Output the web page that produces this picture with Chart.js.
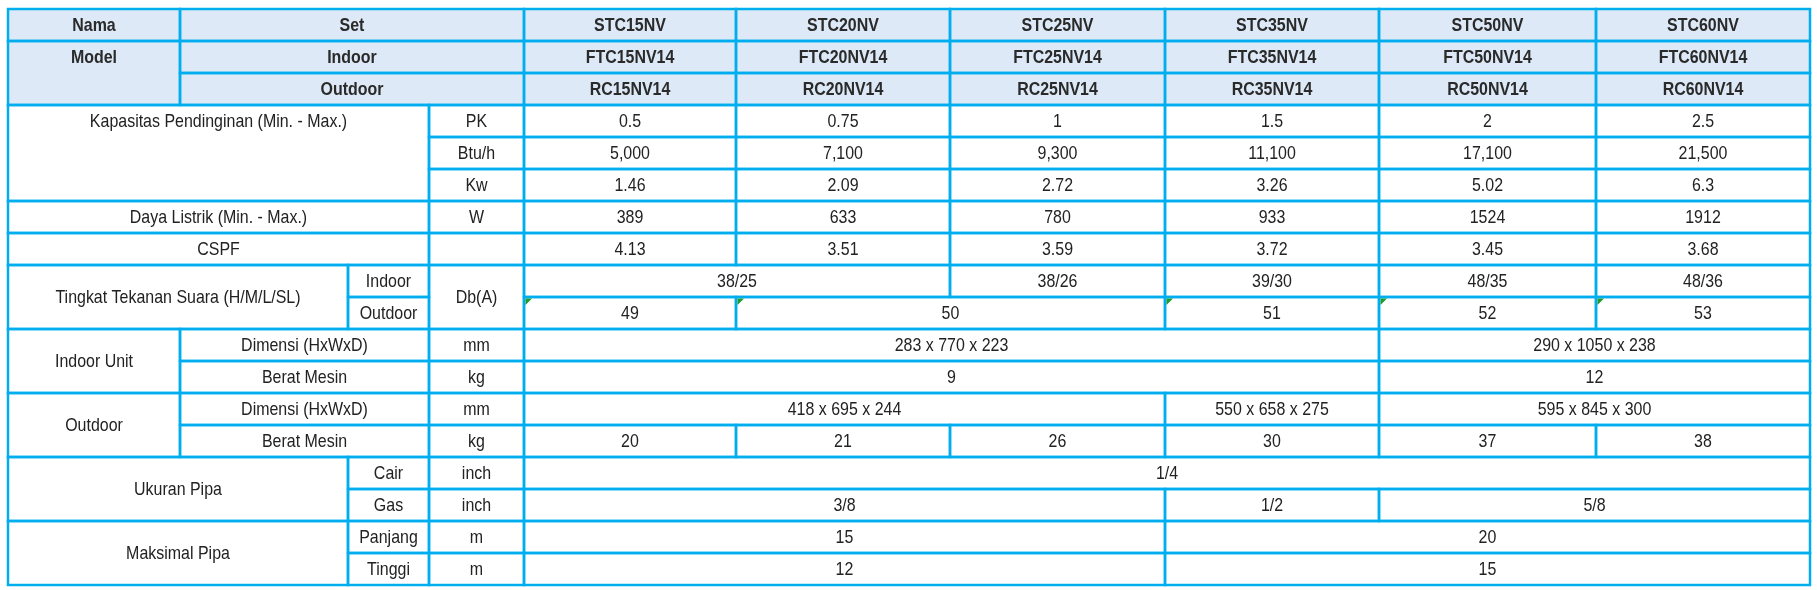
<!DOCTYPE html>
<html><head><meta charset="utf-8">
<script src="https://cdn.jsdelivr.net/npm/chart.js@4"></script>
<style>html,body{margin:0;padding:0;background:#fff}#w{width:1817px;height:590px}</style>
</head><body><div id="w"><canvas id="c"></canvas></div>
<script>
const sets=["STC15NV","STC20NV","STC25NV","STC35NV","STC50NV","STC60NV"];
const indoors=["FTC15NV14","FTC20NV14","FTC25NV14","FTC35NV14","FTC50NV14","FTC60NV14"];
const outdoors=["RC15NV14","RC20NV14","RC25NV14","RC35NV14","RC50NV14","RC60NV14"];
const pk=["0.5","0.75","1","1.5","2","2.5"];
const btu=["5,000","7,100","9,300","11,100","17,100","21,500"];
const kw=["1.46","2.09","2.72","3.26","5.02","6.3"];
const watt=["389","633","780","933","1524","1912"];
const cspf=["4.13","3.51","3.59","3.72","3.45","3.68"];
const noiseIn=[["38/25",0,2],["38/26",2,3],["39/30",3,4],["48/35",4,5],["48/36",5,6]];
const noiseOut=[["49",0,1],["50",1,3],["51",3,4],["52",4,5],["53",5,6]];
const inDim=[["283 x 770 x 223",0,4],["290 x 1050 x 238",4,6]];
const inKg=[["9",0,4],["12",4,6]];
const outDim=[["418 x 695 x 244",0,3],["550 x 658 x 275",3,4],["595 x 845 x 300",4,6]];
const outKg=["20","21","26","30","37","38"];
const cair=[["1/4",0,6]];
const gas=[["3/8",0,3],["1/2",3,4],["5/8",4,6]];
const panjang=[["15",0,3],["20",3,6]];
const tinggi=[["12",0,3],["15",3,6]];
const colEdges=[8,180,348,429,524,736,950,1165,1379,1596,1810];
const rowTop=9, rowH=32, nRows=18;

const cells=[];
function C(c0,c1,r0,r1,t,o){cells.push({c0,c1,r0,r1,t,o:o||{}});}
const H={hdr:true,bold:true};
C(0,1,0,1,"Nama",H);C(1,4,0,1,"Set",H);
C(0,1,1,3,"Model",Object.assign({top:true},H));C(1,4,1,2,"Indoor",H);C(1,4,2,3,"Outdoor",H);
sets.forEach((s,i)=>{C(4+i,5+i,0,1,s,H);C(4+i,5+i,1,2,indoors[i],H);C(4+i,5+i,2,3,outdoors[i],H);});
C(0,3,3,6,"Kapasitas Pendinginan (Min. - Max.)",{top:true});
C(3,4,3,4,"PK");C(3,4,4,5,"Btu/h");C(3,4,5,6,"Kw");
function row(arr,r){arr.forEach((v,i)=>C(4+i,5+i,r,r+1,v));}
function span(arr,r,o){arr.forEach(a=>C(4+a[1],4+a[2],r,r+1,a[0],o));}
row(pk,3);row(btu,4);row(kw,5);
C(0,3,6,7,"Daya Listrik (Min. - Max.)");C(3,4,6,7,"W");row(watt,6);
C(0,3,7,8,"CSPF");C(3,4,7,8,"");row(cspf,7);
C(0,2,8,10,"Tingkat Tekanan Suara (H/M/L/SL)");C(2,3,8,9,"Indoor");C(2,3,9,10,"Outdoor");C(3,4,8,10,"Db(A)");
span(noiseIn,8);span(noiseOut,9,{tri:true});
C(0,1,10,12,"Indoor Unit");C(1,3,10,11,"Dimensi (HxWxD)");C(1,3,11,12,"Berat Mesin");C(3,4,10,11,"mm");C(3,4,11,12,"kg");
span(inDim,10);span(inKg,11);
C(0,1,12,14,"Outdoor");C(1,3,12,13,"Dimensi (HxWxD)");C(1,3,13,14,"Berat Mesin");C(3,4,12,13,"mm");C(3,4,13,14,"kg");
span(outDim,12);row(outKg,13);
C(0,2,14,16,"Ukuran Pipa");C(2,3,14,15,"Cair");C(2,3,15,16,"Gas");C(3,4,14,15,"inch");C(3,4,15,16,"inch");
span(cair,14);span(gas,15);
C(0,2,16,18,"Maksimal Pipa");C(2,3,16,17,"Panjang");C(2,3,17,18,"Tinggi");C(3,4,16,17,"m");C(3,4,17,18,"m");
span(panjang,16);span(tinggi,17);

const tablePlugin={id:'tbl',afterDraw(ch){
  const ctx=ch.ctx,xs=ch.scales.x,ys=ch.scales.y;
  const X=i=>xs.getPixelForValue(colEdges[i]);
  const Y=r=>ys.getPixelForValue(rowTop+r*rowH);
  ctx.save();
  cells.forEach(c=>{
    const x0=X(c.c0),x1=X(c.c1),y0=Y(c.r0),y1=Y(c.r1);
    if(c.o.hdr){ctx.fillStyle='#dde9f6';ctx.fillRect(x0,y0,x1-x0,y1-y0);}
  });
  ctx.strokeStyle='#00aeef';ctx.lineWidth=2.5;
  cells.forEach(c=>{
    const x0=X(c.c0),x1=X(c.c1),y0=Y(c.r0),y1=Y(c.r1);
    ctx.strokeRect(x0,y0,x1-x0,y1-y0);
  });
  cells.forEach(c=>{
    const x0=X(c.c0),x1=X(c.c1),y0=Y(c.r0),y1=Y(c.r1);
    if(c.o.tri){ctx.fillStyle='#1f9a2e';ctx.beginPath();ctx.moveTo(x0+1.5,y0+1.5);ctx.lineTo(x0+8,y0+1.5);ctx.lineTo(x0+1.5,y0+8);ctx.closePath();ctx.fill();}
    ctx.fillStyle=c.o.hdr?'#2a2a2a':'#222';
    ctx.font=(c.o.bold?'bold ':'')+'19px "Liberation Sans Narrow","Arial Narrow","Liberation Sans",sans-serif';
    ctx.textAlign='center';ctx.textBaseline='middle';
    const cy=c.o.top?(y0+rowH/2):(y0+y1)/2;
    const cx=(x0+x1)/2, sx=0.84;
    ctx.save();ctx.translate(cx,cy+1);ctx.scale(sx,1);
    ctx.fillText(c.t,0,0);
    ctx.restore();
  });
  ctx.restore();
}};
new Chart(document.getElementById('c'),{type:'scatter',data:{datasets:[{data:[]}]},
 options:{responsive:true,maintainAspectRatio:false,animation:false,events:[],
  layout:{padding:0},plugins:{legend:{display:false},tooltip:{enabled:false}},
  scales:{x:{type:'linear',min:0,max:1817,display:false},y:{type:'linear',min:0,max:590,reverse:true,display:false}}},
 plugins:[tablePlugin]});
</script></body></html>
